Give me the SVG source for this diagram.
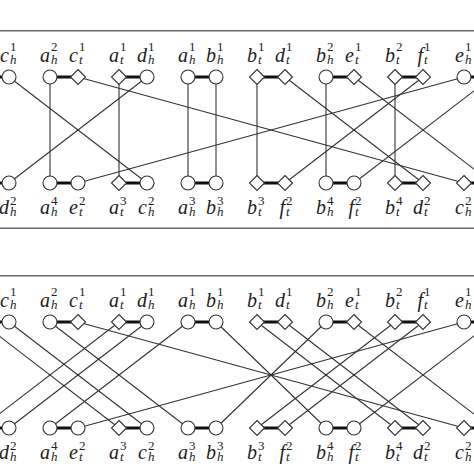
<svg xmlns="http://www.w3.org/2000/svg" xmlns:xlink="http://www.w3.org/1999/xlink" width="474" height="474" viewBox="0 0 474 474">
<style>
.box{stroke:#6a6a6a;stroke-width:1.6;fill:none}
.e{stroke:#333;stroke-width:1.1;fill:none}
.pair{stroke:#111;stroke-width:3;fill:none}
.n{fill:#fff;stroke:#333;stroke-width:1.1}
.m{font-family:"Liberation Serif","DejaVu Serif",serif;font-style:italic;font-size:20px;fill:#222;text-anchor:end}
.sp{font-family:"Liberation Serif","DejaVu Serif",serif;font-size:13px;fill:#222}
.sb{font-family:"Liberation Serif","DejaVu Serif",serif;font-style:italic;font-size:13px;fill:#222}
</style>
<defs>
<circle id="C" r="7"/>
<path id="D" d="M0,-7.5L7.5,0L0,7.5L-7.5,0Z"/>
</defs>
<rect width="474" height="474" fill="#fff"/>
<g id="frames">
<line class="box" x1="0" y1="30.7" x2="474" y2="30.7"/>
<line class="box" x1="0" y1="228.3" x2="474" y2="228.3"/>
<line class="box" x1="0" y1="275.7" x2="474" y2="275.7"/>
</g>
<g id="connectors">
<!-- top box -->
<line class="e" x1="9" y1="77" x2="147" y2="183"/>
<line class="e" x1="50" y1="77" x2="50" y2="183"/>
<line class="e" x1="78" y1="77" x2="464" y2="183"/>
<line class="e" x1="119" y1="77" x2="119" y2="183"/>
<line class="e" x1="147" y1="77" x2="9" y2="183"/>
<line class="e" x1="188" y1="77" x2="188" y2="183"/>
<line class="e" x1="216" y1="77" x2="216" y2="183"/>
<line class="e" x1="78" y1="183" x2="464" y2="77"/>
<line class="e" x1="257" y1="77" x2="257" y2="183"/>
<line class="e" x1="285" y1="77" x2="423" y2="183"/>
<line class="e" x1="326" y1="77" x2="326" y2="183"/>
<line class="e" x1="354" y1="77" x2="492" y2="183"/>
<line class="e" x1="395" y1="77" x2="395" y2="183"/>
<line class="e" x1="423" y1="77" x2="285" y2="183"/>
<line class="e" x1="492" y1="77" x2="354" y2="183"/>
<!-- bottom box -->
<line class="e" x1="-19" y1="322" x2="119" y2="428"/>
<line class="e" x1="9" y1="322" x2="147" y2="428"/>
<line class="e" x1="50" y1="322" x2="188" y2="428"/>
<line class="e" x1="78" y1="322" x2="464" y2="428"/>
<line class="e" x1="119" y1="322" x2="-19" y2="428"/>
<line class="e" x1="147" y1="322" x2="9" y2="428"/>
<line class="e" x1="188" y1="322" x2="50" y2="428"/>
<line class="e" x1="216" y1="322" x2="326" y2="428"/>
<line class="e" x1="78" y1="428" x2="464" y2="322"/>
<line class="e" x1="216" y1="428" x2="326" y2="322"/>
<line class="e" x1="257" y1="322" x2="395" y2="428"/>
<line class="e" x1="285" y1="322" x2="423" y2="428"/>
<line class="e" x1="354" y1="322" x2="492" y2="428"/>
<line class="e" x1="395" y1="322" x2="257" y2="428"/>
<line class="e" x1="423" y1="322" x2="285" y2="428"/>
<line class="e" x1="492" y1="322" x2="354" y2="428"/>
<!-- pair links -->
<path class="pair" d="M0,77H9M50,77H78M119,77H147M188,77H216M257,77H285M326,77H354M395,77H423M464,77H474"/>
<path class="pair" d="M0,183H9M50,183H78M119,183H147M188,183H216M257,183H285M326,183H354M395,183H423M464,183H474"/>
<path class="pair" d="M0,322H9M50,322H78M119,322H147M188,322H216M257,322H285M326,322H354M395,322H423M464,322H474"/>
<path class="pair" d="M0,428H9M50,428H78M119,428H147M188,428H216M257,428H285M326,428H354M395,428H423M464,428H474"/>
</g>
<!-- TOP BOX, top row (y=77) -->
<g id="n1-ch1"><use href="#C" class="n" x="9" y="77"/><text class="m" x="9" y="62">c</text><text class="sp" x="10" y="50.5">1</text><text class="sb" x="10" y="64">h</text></g>
<g id="n1-ah2"><use href="#C" class="n" x="50" y="77"/><text class="m" x="50" y="62">a</text><text class="sp" x="51" y="50.5">2</text><text class="sb" x="51" y="64">h</text></g>
<g id="n1-ct1"><use href="#D" class="n" x="78" y="77"/><text class="m" x="78" y="62">c</text><text class="sp" x="79" y="50.5">1</text><text class="sb" x="79" y="64">t</text></g>
<g id="n1-at1"><use href="#D" class="n" x="119" y="77"/><text class="m" x="119" y="62">a</text><text class="sp" x="120" y="50.5">1</text><text class="sb" x="120" y="64">t</text></g>
<g id="n1-dh1"><use href="#C" class="n" x="147" y="77"/><text class="m" x="147" y="62">d</text><text class="sp" x="148" y="50.5">1</text><text class="sb" x="148" y="64">h</text></g>
<g id="n1-ah1"><use href="#C" class="n" x="188" y="77"/><text class="m" x="188" y="62">a</text><text class="sp" x="189" y="50.5">1</text><text class="sb" x="189" y="64">h</text></g>
<g id="n1-bh1"><use href="#C" class="n" x="216" y="77"/><text class="m" x="216" y="62">b</text><text class="sp" x="217" y="50.5">1</text><text class="sb" x="217" y="64">h</text></g>
<g id="n1-bt1"><use href="#D" class="n" x="257" y="77"/><text class="m" x="257" y="62">b</text><text class="sp" x="258" y="50.5">1</text><text class="sb" x="258" y="64">t</text></g>
<g id="n1-dt1"><use href="#D" class="n" x="285" y="77"/><text class="m" x="285" y="62">d</text><text class="sp" x="286" y="50.5">1</text><text class="sb" x="286" y="64">t</text></g>
<g id="n1-bh2"><use href="#C" class="n" x="326" y="77"/><text class="m" x="326" y="62">b</text><text class="sp" x="327" y="50.5">2</text><text class="sb" x="327" y="64">h</text></g>
<g id="n1-et1"><use href="#D" class="n" x="354" y="77"/><text class="m" x="354" y="62">e</text><text class="sp" x="355" y="50.5">1</text><text class="sb" x="355" y="64">t</text></g>
<g id="n1-bt2"><use href="#D" class="n" x="395" y="77"/><text class="m" x="395" y="62">b</text><text class="sp" x="396" y="50.5">2</text><text class="sb" x="396" y="64">t</text></g>
<g id="n1-ft1"><use href="#D" class="n" x="423" y="77"/><text class="m" x="423" y="62">f</text><text class="sp" x="424" y="50.5">1</text><text class="sb" x="424" y="64">t</text></g>
<g id="n1-eh1"><use href="#C" class="n" x="464" y="77"/><text class="m" x="464" y="62">e</text><text class="sp" x="465" y="50.5">1</text><text class="sb" x="465" y="64">h</text></g>
<!-- TOP BOX, bottom row (y=183) -->
<g id="n1-dh2"><use href="#C" class="n" x="9" y="183"/><text class="m" x="9" y="213.5">d</text><text class="sp" x="10" y="205">2</text><text class="sb" x="10" y="216">h</text></g>
<g id="n1-ah4"><use href="#C" class="n" x="50" y="183"/><text class="m" x="50" y="213.5">a</text><text class="sp" x="51" y="205">4</text><text class="sb" x="51" y="216">h</text></g>
<g id="n1-et2"><use href="#C" class="n" x="78" y="183"/><text class="m" x="78" y="213.5">e</text><text class="sp" x="79" y="205">2</text><text class="sb" x="79" y="216">t</text></g>
<g id="n1-at3"><use href="#D" class="n" x="119" y="183"/><text class="m" x="119" y="213.5">a</text><text class="sp" x="120" y="205">3</text><text class="sb" x="120" y="216">t</text></g>
<g id="n1-ch2"><use href="#C" class="n" x="147" y="183"/><text class="m" x="147" y="213.5">c</text><text class="sp" x="148" y="205">2</text><text class="sb" x="148" y="216">h</text></g>
<g id="n1-ah3"><use href="#C" class="n" x="188" y="183"/><text class="m" x="188" y="213.5">a</text><text class="sp" x="189" y="205">3</text><text class="sb" x="189" y="216">h</text></g>
<g id="n1-bh3"><use href="#C" class="n" x="216" y="183"/><text class="m" x="216" y="213.5">b</text><text class="sp" x="217" y="205">3</text><text class="sb" x="217" y="216">h</text></g>
<g id="n1-bt3"><use href="#D" class="n" x="257" y="183"/><text class="m" x="257" y="213.5">b</text><text class="sp" x="258" y="205">3</text><text class="sb" x="258" y="216">t</text></g>
<g id="n1-ft2a"><use href="#D" class="n" x="285" y="183"/><text class="m" x="285" y="213.5">f</text><text class="sp" x="286" y="205">2</text><text class="sb" x="286" y="216">t</text></g>
<g id="n1-bh4"><use href="#C" class="n" x="326" y="183"/><text class="m" x="326" y="213.5">b</text><text class="sp" x="327" y="205">4</text><text class="sb" x="327" y="216">h</text></g>
<g id="n1-ft2b"><use href="#C" class="n" x="354" y="183"/><text class="m" x="354" y="213.5">f</text><text class="sp" x="355" y="205">2</text><text class="sb" x="355" y="216">t</text></g>
<g id="n1-bt4"><use href="#D" class="n" x="395" y="183"/><text class="m" x="395" y="213.5">b</text><text class="sp" x="396" y="205">4</text><text class="sb" x="396" y="216">t</text></g>
<g id="n1-dt2"><use href="#D" class="n" x="423" y="183"/><text class="m" x="423" y="213.5">d</text><text class="sp" x="424" y="205">2</text><text class="sb" x="424" y="216">t</text></g>
<g id="n1-ch2b"><use href="#D" class="n" x="464" y="183"/><text class="m" x="464" y="213.5">c</text><text class="sp" x="465" y="205">2</text><text class="sb" x="465" y="216">h</text></g>
<!-- BOTTOM BOX, top row (y=322) -->
<g id="n2-ch1"><use href="#C" class="n" x="9" y="322"/><text class="m" x="9" y="307">c</text><text class="sp" x="10" y="295.5">1</text><text class="sb" x="10" y="309">h</text></g>
<g id="n2-ah2"><use href="#C" class="n" x="50" y="322"/><text class="m" x="50" y="307">a</text><text class="sp" x="51" y="295.5">2</text><text class="sb" x="51" y="309">h</text></g>
<g id="n2-ct1"><use href="#D" class="n" x="78" y="322"/><text class="m" x="78" y="307">c</text><text class="sp" x="79" y="295.5">1</text><text class="sb" x="79" y="309">t</text></g>
<g id="n2-at1"><use href="#D" class="n" x="119" y="322"/><text class="m" x="119" y="307">a</text><text class="sp" x="120" y="295.5">1</text><text class="sb" x="120" y="309">t</text></g>
<g id="n2-dh1"><use href="#C" class="n" x="147" y="322"/><text class="m" x="147" y="307">d</text><text class="sp" x="148" y="295.5">1</text><text class="sb" x="148" y="309">h</text></g>
<g id="n2-ah1"><use href="#C" class="n" x="188" y="322"/><text class="m" x="188" y="307">a</text><text class="sp" x="189" y="295.5">1</text><text class="sb" x="189" y="309">h</text></g>
<g id="n2-bh1"><use href="#C" class="n" x="216" y="322"/><text class="m" x="216" y="307">b</text><text class="sp" x="217" y="295.5">1</text><text class="sb" x="217" y="309">h</text></g>
<g id="n2-bt1"><use href="#D" class="n" x="257" y="322"/><text class="m" x="257" y="307">b</text><text class="sp" x="258" y="295.5">1</text><text class="sb" x="258" y="309">t</text></g>
<g id="n2-dt1"><use href="#D" class="n" x="285" y="322"/><text class="m" x="285" y="307">d</text><text class="sp" x="286" y="295.5">1</text><text class="sb" x="286" y="309">t</text></g>
<g id="n2-bh2"><use href="#C" class="n" x="326" y="322"/><text class="m" x="326" y="307">b</text><text class="sp" x="327" y="295.5">2</text><text class="sb" x="327" y="309">h</text></g>
<g id="n2-et1"><use href="#D" class="n" x="354" y="322"/><text class="m" x="354" y="307">e</text><text class="sp" x="355" y="295.5">1</text><text class="sb" x="355" y="309">t</text></g>
<g id="n2-bt2"><use href="#D" class="n" x="395" y="322"/><text class="m" x="395" y="307">b</text><text class="sp" x="396" y="295.5">2</text><text class="sb" x="396" y="309">t</text></g>
<g id="n2-ft1"><use href="#D" class="n" x="423" y="322"/><text class="m" x="423" y="307">f</text><text class="sp" x="424" y="295.5">1</text><text class="sb" x="424" y="309">t</text></g>
<g id="n2-eh1"><use href="#C" class="n" x="464" y="322"/><text class="m" x="464" y="307">e</text><text class="sp" x="465" y="295.5">1</text><text class="sb" x="465" y="309">h</text></g>
<!-- BOTTOM BOX, bottom row (y=428) -->
<g id="n2-dh2"><use href="#C" class="n" x="9" y="428"/><text class="m" x="9" y="458.5">d</text><text class="sp" x="10" y="450">2</text><text class="sb" x="10" y="461">h</text></g>
<g id="n2-ah4"><use href="#C" class="n" x="50" y="428"/><text class="m" x="50" y="458.5">a</text><text class="sp" x="51" y="450">4</text><text class="sb" x="51" y="461">h</text></g>
<g id="n2-et2"><use href="#C" class="n" x="78" y="428"/><text class="m" x="78" y="458.5">e</text><text class="sp" x="79" y="450">2</text><text class="sb" x="79" y="461">t</text></g>
<g id="n2-at3"><use href="#D" class="n" x="119" y="428"/><text class="m" x="119" y="458.5">a</text><text class="sp" x="120" y="450">3</text><text class="sb" x="120" y="461">t</text></g>
<g id="n2-ch2"><use href="#C" class="n" x="147" y="428"/><text class="m" x="147" y="458.5">c</text><text class="sp" x="148" y="450">2</text><text class="sb" x="148" y="461">h</text></g>
<g id="n2-ah3"><use href="#C" class="n" x="188" y="428"/><text class="m" x="188" y="458.5">a</text><text class="sp" x="189" y="450">3</text><text class="sb" x="189" y="461">h</text></g>
<g id="n2-bh3"><use href="#C" class="n" x="216" y="428"/><text class="m" x="216" y="458.5">b</text><text class="sp" x="217" y="450">3</text><text class="sb" x="217" y="461">h</text></g>
<g id="n2-bt3"><use href="#D" class="n" x="257" y="428"/><text class="m" x="257" y="458.5">b</text><text class="sp" x="258" y="450">3</text><text class="sb" x="258" y="461">t</text></g>
<g id="n2-ft2a"><use href="#D" class="n" x="285" y="428"/><text class="m" x="285" y="458.5">f</text><text class="sp" x="286" y="450">2</text><text class="sb" x="286" y="461">t</text></g>
<g id="n2-bh4"><use href="#C" class="n" x="326" y="428"/><text class="m" x="326" y="458.5">b</text><text class="sp" x="327" y="450">4</text><text class="sb" x="327" y="461">h</text></g>
<g id="n2-ft2b"><use href="#C" class="n" x="354" y="428"/><text class="m" x="354" y="458.5">f</text><text class="sp" x="355" y="450">2</text><text class="sb" x="355" y="461">t</text></g>
<g id="n2-bt4"><use href="#D" class="n" x="395" y="428"/><text class="m" x="395" y="458.5">b</text><text class="sp" x="396" y="450">4</text><text class="sb" x="396" y="461">t</text></g>
<g id="n2-dt2"><use href="#D" class="n" x="423" y="428"/><text class="m" x="423" y="458.5">d</text><text class="sp" x="424" y="450">2</text><text class="sb" x="424" y="461">t</text></g>
<g id="n2-ch2b"><use href="#D" class="n" x="464" y="428"/><text class="m" x="464" y="458.5">c</text><text class="sp" x="465" y="450">2</text><text class="sb" x="465" y="461">h</text></g>
</svg>
